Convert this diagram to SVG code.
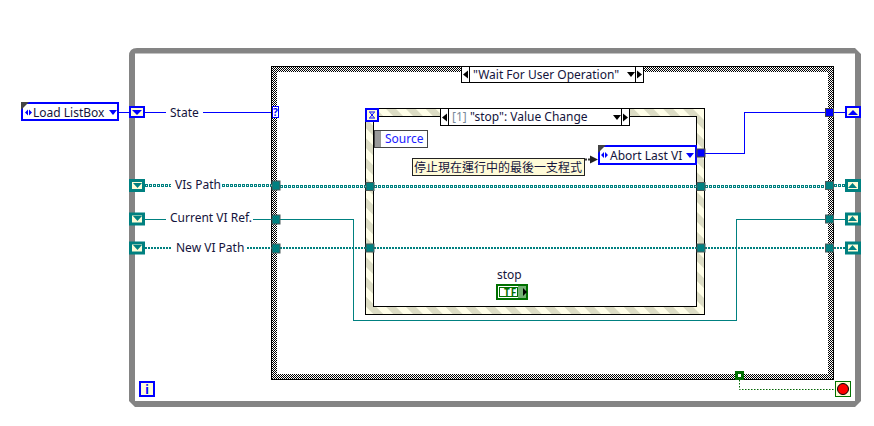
<svg xmlns="http://www.w3.org/2000/svg" width="874" height="426" viewBox="0 0 874 426">
<style>
text{font-family:"Noto Sans","Liberation Sans",sans-serif;font-size:12px;fill:#14143c}
.w{fill:none;stroke-width:1;shape-rendering:crispEdges}
.blue{stroke:#0000ff}
.teal{stroke:#008080}
.path{stroke:#008080;stroke-width:3;stroke-dasharray:3 1;fill:none;shape-rendering:crispEdges}
.hole{stroke:#e8f4f4;stroke-width:1;stroke-dasharray:1 3;stroke-dashoffset:-1;fill:none;shape-rendering:crispEdges}
.path2{stroke:#008080;stroke-width:2;stroke-dasharray:2 1;fill:none;shape-rendering:crispEdges}
.tb{fill:#fffdd8;stroke:#008080;stroke-width:3}
.tri{fill:#008080}
.sq{fill:#008080;stroke:#4a5a5a;stroke-width:1}
.sel{fill:#fff;stroke:#000;stroke-width:1}
.ar{fill:#000}
</style>
<defs>
<pattern id="chk" width="2" height="2" patternUnits="userSpaceOnUse"><rect width="2" height="2" fill="#fff"/><rect width="1" height="1" fill="#000"/><rect x="1" y="1" width="1" height="1" fill="#000"/></pattern>
<pattern id="stp" width="14" height="14" patternUnits="userSpaceOnUse" patternTransform="rotate(-45)"><rect width="14" height="14" fill="#fffee8"/><rect width="7" height="14" fill="#dcdcc4"/></pattern>
</defs>
<g id="while-loop"><path d="M129 56Q129 48 137 48H855L861 54V401L855 407H135L129 401Z M135 53.500V401H855V53.500Z" fill="#848484" fill-rule="evenodd"/></g>
<g id="case-structure"><path d="M271 66H834V380H271Z M277 72V374H828V72Z" fill="url(#chk)" fill-rule="evenodd"/><rect x="271.500" y="66.500" width="562" height="313" fill="none" stroke="#000"/></g>
<g id="event-structure"><path d="M365 108H705V315H365Z M373 117V306H697V117Z" fill="url(#stp)" fill-rule="evenodd"/><rect x="365.500" y="108.500" width="339" height="206" fill="none" stroke="#000"/><rect x="373.500" y="116.500" width="323" height="190" fill="none" stroke="#000"/></g>
<g id="connectors">
<path class="w blue" d="M119 112.500H129M145 112.500H166M203 112.500H271"/>
<path class="path" d="M145 185.500H171M222 185.500H272M280 186.500H366M374 186.500H697M705 186.500H825M834 185.500H845"/>
<path class="hole" d="M145 185.500H171M222 185.500H272M280 186.500H366M374 186.500H697M705 186.500H825M834 185.500H845"/>
<path class="w teal" d="M145 219.500H166M253 219.500H272M280 219.500H353V320.500H736.500V219.500H825M834 219.500H845"/>
<path class="path2" d="M145 248H172M247 248H272M280 248H366M374 248H697M705 248H825M834 248H845"/>
<path class="w blue" d="M705 153.500H744.500V112.500H825M834 112.500H845"/>
<path d="M739.500 380V389.500H835" fill="none" stroke="#006400" stroke-dasharray="1.500 1.500"/>
<path d="M585 159.500H590" stroke="#333" stroke-width="2" stroke-dasharray="2 1"/>
</g>
<g id="load-listbox"><rect x="22" y="103" width="96" height="17" fill="#fff" stroke="#0000ff" stroke-width="2"/><path d="M21 102H29L21 110Z" fill="#444"/><path d="M25 112.500l3-3v6ZM29 109.500l3 3-3 3Z" fill="#0000ff"/><text x="33" y="116.500">Load ListBox</text><path d="M109 110h8l-4 5Z" fill="#0000ff"/></g>
<g id="sr-state-in"><rect x="130" y="107" width="14" height="10" fill="#fffdd8" stroke="#0000ff" stroke-width="2"/><path d="M132 110h10l-5 5Z" fill="#0000ff"/></g>
<g id="label-state"><text x="170" y="117">State</text></g>
<g id="sr-vis-in"><rect x="130.500" y="180.500" width="13" height="10" class="tb"/><path class="tri" d="M133 183h9l-4.500 5Z"/></g>
<g id="label-vis"><text x="175" y="189">VIs Path</text></g>
<g id="sr-ref-in"><rect x="130.500" y="214" width="13" height="10" class="tb"/><path class="tri" d="M133 216h9l-4.500 5Z"/></g>
<g id="label-ref"><text x="170" y="222">Current VI Ref.</text></g>
<g id="sr-new-in"><rect x="130.500" y="243" width="13" height="10" class="tb"/><path class="tri" d="M133 245h9l-4.500 5Z"/></g>
<g id="label-new"><text x="176" y="252">New VI Path</text></g>
<g id="case-selector-term"><rect x="272.500" y="106.500" width="6" height="11" fill="#fff" stroke="#0000ff"/><text x="273" y="115.500" style="font-size:10px;font-weight:bold;fill:#0000ff">?</text></g>
<g id="case-selector"><rect x="461.500" y="66.500" width="182" height="16" class="sel"/><path d="M469.500 67V82M635.500 67V82" stroke="#000"/><path class="ar" d="M463 74.500l5-4v8ZM642 74.500l-5-4v8ZM627 72h8l-4 5Z"/><text x="473" y="79">"Wait For User Operation"</text></g>
<g id="event-selector"><rect x="440.500" y="108.500" width="189" height="17" class="sel"/><path d="M448.500 109V125M621.500 109V125" stroke="#000"/><path class="ar" d="M442 117.500l5-4v8ZM628 117.500l-5-4v8ZM613 115h8l-4 5Z"/><text x="452" y="121"><tspan fill="#7a8a9a">[1]</tspan> "stop": Value Change</text></g>
<g id="event-timeout"><rect x="366" y="109" width="12" height="12" fill="#fffdd8" stroke="#0000ff" stroke-width="2"/><path d="M369 112h6M369 118h6M370 112.500L374 117.500M374 112.500L370 117.500" fill="none" stroke="#0000ff"/></g>
<g id="event-source"><rect x="374.500" y="130.500" width="53" height="17" fill="#fff" stroke="#444"/><rect x="375" y="131" width="6" height="16" fill="#9a9a9a"/><text x="385" y="143" style="fill:#2020ff">Source</text></g>
<g id="string-constant"><rect x="412.500" y="158.500" width="172" height="17" fill="#fffbd8" stroke="#222"/><text x="414" y="171.500" style="font-family:'Noto Sans CJK TC',sans-serif;font-size:12px">停止現在運行中的最後一支程式</text></g>
<g id="abort-enum"><rect x="599" y="146" width="97" height="18" fill="#fff" stroke="#0000ff" stroke-width="2"/><path d="M598 145H606L598 153Z" fill="#444"/><path d="M590 155.500L598 159.500L590 163.500Z" fill="#222"/><path d="M601 155l3-3v6ZM605 152l3 3-3 3Z" fill="#0000ff"/><text x="610" y="160">Abort Last VI</text><path d="M686 153h8l-4 5Z" fill="#0000ff"/></g>
<g id="stop-terminal"><text x="497" y="279">stop</text><rect x="497" y="285" width="30" height="14" fill="#fff" stroke="#007000" stroke-width="2"/><rect x="499.500" y="287.500" width="18" height="9" fill="#fff" stroke="#007000"/><rect x="518" y="286" width="8" height="12" fill="#74b074"/><text x="504" y="296" style="font-size:10px;font-weight:bold;fill:#007000;letter-spacing:1px">TF</text><path d="M523 288l4 4-4 4Z" fill="#000"/></g>
<g id="case-tunnels"><rect x="272" y="181" width="8" height="9" class="sq"/><rect x="272" y="215" width="8" height="9" class="sq"/><rect x="272" y="244" width="8" height="9" class="sq"/><rect x="825.500" y="108.500" width="8" height="8" fill="#0000ff" stroke="#444"/><rect x="825.500" y="181.500" width="8" height="8" class="sq"/><rect x="825.500" y="215" width="8" height="8" class="sq"/><rect x="825.500" y="244" width="8" height="8" class="sq"/></g>
<g id="event-tunnels"><rect x="366" y="182.500" width="8" height="8" class="sq"/><rect x="366" y="244" width="8" height="8" class="sq"/><rect x="697" y="149" width="8" height="8" fill="#0000ff" stroke="#444"/><rect x="697" y="182.500" width="8" height="8" class="sq"/><rect x="697" y="244" width="8" height="8" class="sq"/></g>
<g id="sr-state-out"><rect x="846" y="107" width="14" height="10" fill="#fffdd8" stroke="#0000ff" stroke-width="2"/><path d="M848 115h10l-5-5Z" fill="#0000ff"/></g>
<g id="sr-vis-out"><rect x="846.500" y="180.500" width="13" height="10" class="tb"/><path class="tri" d="M848 188h9l-4.500-5Z"/></g>
<g id="sr-ref-out"><rect x="846.500" y="214" width="13" height="10" class="tb"/><path class="tri" d="M848 221h9l-4.500-5Z"/></g>
<g id="sr-new-out"><rect x="846.500" y="243" width="13" height="10" class="tb"/><path class="tri" d="M848 250h9l-4.500-5Z"/></g>
<g id="cond-tunnel"><rect x="735" y="371" width="9" height="9" fill="#006f00"/><rect x="738" y="374" width="3" height="3" fill="#fff"/></g>
<g id="stop-button"><rect x="835.500" y="381.500" width="15" height="15" fill="#fffdd8" stroke="#007000"/><circle cx="843" cy="389" r="5.500" fill="#f00" stroke="#000"/></g>
<g id="iteration"><rect x="140" y="382" width="14" height="14" fill="#fffdd8" stroke="#0000ff" stroke-width="2"/><text x="147" y="393.500" text-anchor="middle" style="font-size:12px;font-weight:bold;fill:#0000ff">i</text></g>
</svg>
